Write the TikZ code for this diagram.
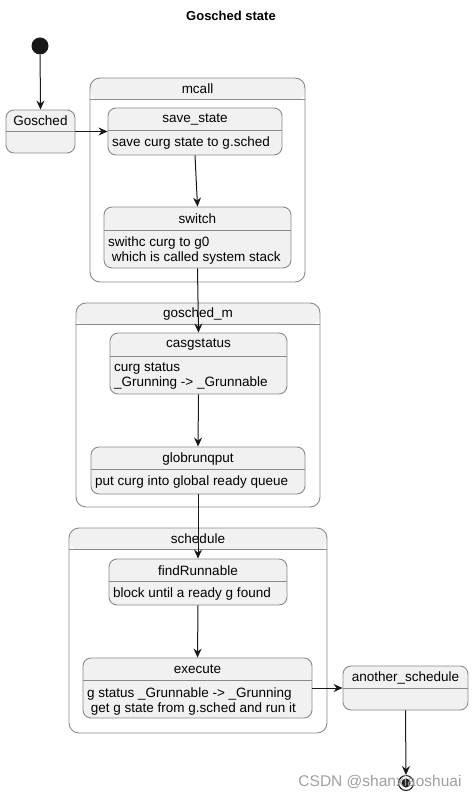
\documentclass[tikz,border=0pt]{standalone}
\usepackage{fontspec}
\setmainfont{Liberation Sans}
\usetikzlibrary{arrows.meta}
\definecolor{UMLFill}{HTML}{F1F1F1}
\definecolor{UMLBorder}{HTML}{8A8A8A}
\definecolor{UMLLine}{HTML}{181818}
\tikzset{
  statebox/.style={draw=UMLBorder, fill=UMLFill, rounded corners=8, line width=0.9pt, inner sep=0pt},
  groupbox/.style={draw=UMLBorder, fill=white, rounded corners=10, line width=0.9pt, inner sep=0pt,
    path picture={\fill[UMLFill] (path picture bounding box.north west) rectangle ([yshift=-22]path picture bounding box.north east);}},
  divider/.style={draw=UMLBorder, line width=0.9pt},
  flow/.style={-{Stealth[length=9pt,width=8pt,inset=3pt]}, draw=UMLLine, line width=1pt},
  titletext/.style={anchor=center, inner sep=0pt},
  bodytext/.style={anchor=west, align=left, inner sep=0pt},
}

\begin{document}
\begin{tikzpicture}[x=1pt,y=-1pt,font=\fontsize{13.5}{15}\selectfont]
\path[use as bounding box] (0,0) rectangle (474,794);
\node[titletext, font=\fontsize{13}{15}\selectfont\bfseries] (title) at (231,16) {Gosched state};

% composite states
\node[groupbox, minimum width=215, minimum height=204] (mcall) at (197.5,180) {};
\draw[divider] ([yshift=-22]mcall.north west) -- ([yshift=-22]mcall.north east);
\node[titletext] (mcalltitle) at ([yshift=-11]mcall.north) {mcall};
\node[groupbox, minimum width=244, minimum height=204] (goschedm) at (198,405) {};
\draw[divider] ([yshift=-22]goschedm.north west) -- ([yshift=-22]goschedm.north east);
\node[titletext] (goschedmtitle) at ([yshift=-11]goschedm.north) {gosched\_m};
\node[groupbox, minimum width=258, minimum height=205] (schedule) at (198,630.5) {};
\draw[divider] ([yshift=-22]schedule.north west) -- ([yshift=-22]schedule.north east);
\node[titletext] (scheduletitle) at ([yshift=-11]schedule.north) {schedule};

% initial and final
\node[circle, fill=UMLLine, minimum size=17, inner sep=0pt] (start) at (40,46) {};
\node[circle, draw=UMLLine, fill=white, line width=1pt, minimum size=15, inner sep=0pt] (stop) at (406,783) {};
\node[circle, fill=UMLLine, minimum size=9, inner sep=0pt] (stopdot) at (stop.center) {};

% simple states
\node[statebox, minimum width=69, minimum height=43] (gosched) at (40.5,131.5) {};
\draw[divider] ([yshift=-22]gosched.north west) -- ([yshift=-22]gosched.north east);
\node[titletext] (goschedtitle) at ([yshift=-11.5]gosched.north) {Gosched};

\node[statebox, minimum width=174, minimum height=47] (savestate) at (195,131.5) {};
\draw[divider] ([yshift=-23]savestate.north west) -- ([yshift=-23]savestate.north east);
\node[titletext] (savestatetitle) at ([yshift=-12]savestate.north) {save\_state};
\node[bodytext] (savestatebody) at (112,143.5) {save curg state to g.sched};

\node[statebox, minimum width=187, minimum height=61] (switch) at (197.5,237.5) {};
\draw[divider] ([yshift=-24]switch.north west) -- ([yshift=-24]switch.north east);
\node[titletext] (switchtitle) at ([yshift=-12]switch.north) {switch};
\node[bodytext] (switchbody) at (108,250.5) {swithc curg to g0\\\ which is called system stack};

\node[statebox, minimum width=177, minimum height=61] (casgstatus) at (198.5,363.5) {};
\draw[divider] ([yshift=-24]casgstatus.north west) -- ([yshift=-24]casgstatus.north east);
\node[titletext] (casgstatustitle) at ([yshift=-12]casgstatus.north) {casgstatus};
\node[bodytext] (casgstatusbody) at (114,376.5) {curg status\\\_Grunning -> \_Grunnable};

\node[statebox, minimum width=214, minimum height=47] (globrunqput) at (198,470.5) {};
\draw[divider] ([yshift=-23]globrunqput.north west) -- ([yshift=-23]globrunqput.north east);
\node[titletext] (globrunqputtitle) at ([yshift=-12]globrunqput.north) {globrunqput};
\node[bodytext] (globrunqputbody) at (95,482.5) {put curg into global ready queue};

\node[statebox, minimum width=178, minimum height=46] (findrunnable) at (198,582) {};
\draw[divider] ([yshift=-23]findrunnable.north west) -- ([yshift=-23]findrunnable.north east);
\node[titletext] (findrunnabletitle) at ([yshift=-12]findrunnable.north) {findRunnable};
\node[bodytext] (findrunnablebody) at (113,594) {block until a ready g found};

\node[statebox, minimum width=229, minimum height=60] (execute) at (197.5,688) {};
\draw[divider] ([yshift=-23]execute.north west) -- ([yshift=-23]execute.north east);
\node[titletext] (executetitle) at ([yshift=-12]execute.north) {execute};
\node[bodytext] (executebody) at (87,701.5) {g status \_Grunnable -> \_Grunning\\\ get g state from g.sched and run it};

\node[statebox, minimum width=125, minimum height=44] (another) at (405.5,688) {};
\draw[divider] ([yshift=-23]another.north west) -- ([yshift=-23]another.north east);
\node[titletext] (anothertitle) at ([yshift=-12]another.north) {another\_schedule};

% transitions
\draw[flow] (start) -- (gosched.north);
\draw[flow] (gosched.east) -- (savestate.west);
\draw[flow] (savestate.south) -- (switch.north);
\draw[flow] (switch.south) -- (casgstatus.north);
\draw[flow] (casgstatus.south) -- (globrunqput.north);
\draw[flow] (globrunqput.south) -- (findrunnable.north);
\draw[flow] (findrunnable.south) -- (execute.north);
\draw[flow] (execute.east) -- (another.west);
\draw[flow] (another.south) -- (stop.north);

\node[text=gray!75, font=\fontsize{15.5}{17}\selectfont, inner sep=0pt] (mark) at (380,782) {CSDN @shanxiaoshuai};
\end{tikzpicture}
\end{document}
